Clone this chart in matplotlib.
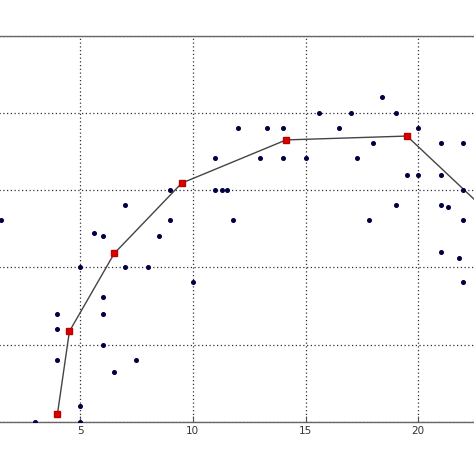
import matplotlib
matplotlib.use("Agg")
import matplotlib.pyplot as plt
import numpy as np

# Scatter of observations (dark blue dots)
obs_x = [12, 11, 9, 11, 11.3, 11.5, 1.5, 7, 9, 11.8, 5.6, 6, 8.5,
         13.3, 14, 13, 14, 15, 15.6, 17, 19, 18.4, 16.5, 18, 17.3,
         20, 19.5, 20, 21, 22, 21, 22, 19, 21, 21.3, 17.8, 22,
         7, 8, 5, 10, 6, 4, 6, 4, 6, 4, 7.5, 6.5, 5, 3, 5,
         21, 21.8, 22]
obs_y = [3.81, 3.41, 3.0, 3.0, 3.0, 3.0, 2.61, 2.81, 2.61, 2.61, 2.45, 2.41, 2.41,
         3.81, 3.81, 3.41, 3.41, 3.41, 4.0, 4.0, 4.0, 4.2, 3.81, 3.61, 3.41,
         3.81, 3.2, 3.2, 3.61, 3.61, 3.2, 3.0, 2.81, 2.81, 2.78, 2.61, 2.61,
         2.0, 2.0, 2.0, 1.81, 1.61, 1.40, 1.40, 1.20, 1.0, 0.80, 0.80, 0.64, 0.2, 0.0, 0.0,
         2.2, 2.12, 1.81]

# Binned means (red squares joined by a line)
mean_x = [4.0, 4.53, 6.52, 9.51, 14.14, 19.5, 23.5]
mean_y = [0.10, 1.17, 2.18, 3.09, 3.65, 3.70, 2.6]

x_ticks = [0, 5, 10, 15, 20, 25]
x_labels = ["", "5", "10", "15", "20", ""]  # 0 and 25 fall outside the cropped view
y_ticks = [0, 1, 2, 3, 4, 5]

fig = plt.figure(figsize=(4.74, 4.74), dpi=100)
# axes extend past the figure edges on the left and right (cropped view)
ax = fig.add_axes([-32.75 / 474, 52.3 / 474, 563.75 / 474, 386.0 / 474])

ax.plot(obs_x, obs_y, "o", color="#000044", markersize=2.6, zorder=3)
ax.plot(mean_x, mean_y, "-", color="#444444", linewidth=1.0, zorder=2)
ax.plot(mean_x, mean_y, "s", color="#dd0000", markeredgecolor="#bb0000",
        markersize=5, zorder=4)

ax.set_xlim(0, 25)
ax.set_ylim(0, 5)
ax.set_xticks(x_ticks, labels=x_labels)
ax.set_yticks(y_ticks)
ax.set_yticklabels([])
ax.grid(True, color="#333333", linestyle=(0, (1, 2)), linewidth=0.9)
ax.tick_params(direction="in", length=4, colors="#555555", labelcolor="#333333",
               labelsize=7.5, pad=3)
for s in ax.spines.values():
    s.set_color("#666666")
    s.set_linewidth(1.0)

fig.savefig("out.png", dpi=100)
